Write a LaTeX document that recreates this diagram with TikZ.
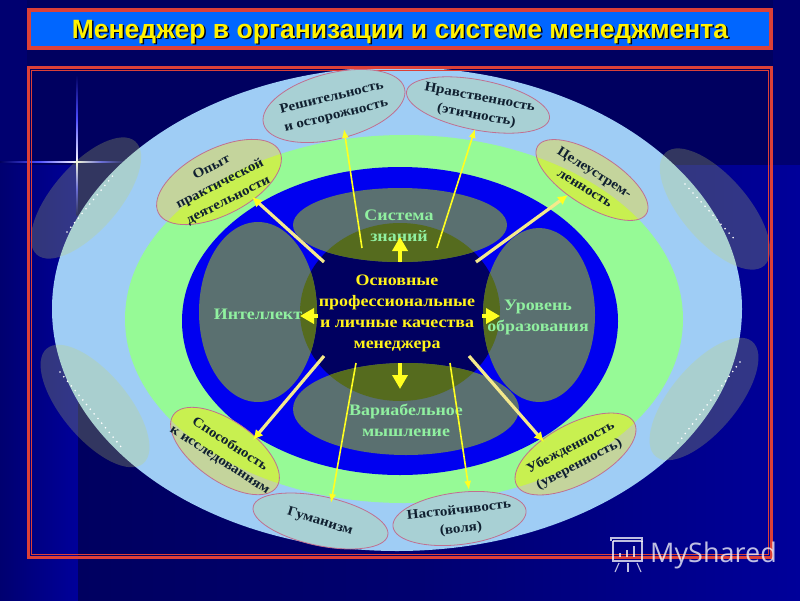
\documentclass[tikz,border=0pt]{standalone}
\usepackage{fontspec}
\setmainfont[FakeStretch=1.12]{Liberation Serif}
\newfontfamily\titlefont{Liberation Sans}
\newfontfamily\markfont{Open Sans}
\usetikzlibrary{shapes.geometric,arrows.meta}
\definecolor{navyA}{HTML}{000060}
\definecolor{navyB}{HTML}{00009A}
\definecolor{navyM}{HTML}{000070}
\definecolor{navyC}{HTML}{000070}
\definecolor{frameR}{HTML}{DC4038}
\definecolor{titleB}{HTML}{0066FF}
\definecolor{skyL}{HTML}{9FCDF5}
\definecolor{greenL}{HTML}{96FA96}
\definecolor{blueL}{HTML}{0000F0}
\definecolor{greyL}{HTML}{5A7070}
\definecolor{oliveL}{HTML}{556B1E}
\definecolor{tealE}{HTML}{A8D0D4}
\definecolor{sandE}{HTML}{C4D49C}
\definecolor{limeE}{HTML}{C8F050}
\definecolor{blobC}{HTML}{C8D860}
\definecolor{rimE}{HTML}{C07090}
\definecolor{lineY}{HTML}{F4E98C}
\definecolor{headY}{HTML}{FFFF20}
\definecolor{txtG}{HTML}{90F0A0}
\definecolor{txtD}{HTML}{102030}
\tikzset{
  x=1pt,y=-1pt,
  rimshape/.style={ellipse,draw=rimE,line width=.8pt,inner sep=0pt},
  tag/.style={inner sep=0pt,align=center,font=\fontsize{13.5}{18.5}\selectfont\bfseries,text=txtD},
  inner/.style={align=center,font=\fontsize{16}{21}\selectfont\bfseries,text=txtG},
  thickarr/.style={draw=lineY,line width=3.2pt,-{Latex[length=10pt,width=10pt,color=headY]}},
  thinarr/.style={draw=headY,line width=1.6pt,-{Latex[length=9pt,width=7pt,color=headY]}},
  blockarr/.style={draw=headY,line width=4.5pt,-{Triangle[length=14pt,width=15pt,color=headY]}},
  blob/.style={fill=blobC,fill opacity=.25},
  dots/.style={draw=white,line width=1.8pt,line cap=round,dash pattern=on 0pt off 6pt},
}
% name, x, y, rx, ry, angle, colour outside green, colour over green
\newcommand{\twotone}[8]{%
  \begin{scope}
    \clip[rotate around={#6:(#2,#3)}] (#2,#3) ellipse (#4pt and #5pt);
    \fill[#7] (0,0) rectangle (800,600);
    \fill[#8] (404,319) ellipse (279pt and 184pt);
  \end{scope}
  \node (#1) [rimshape,rotate=#6,minimum width=2*#4 pt,minimum height=2*#5 pt] at (#2,#3) {};}
\begin{document}
\begin{tikzpicture}
\useasboundingbox (0,0) rectangle (800,600);
% background
\shade[left color=navyC,right color=navyB] (0,165) rectangle (78,600);
\shade[left color=navyA,right color=navyM] (78,165) rectangle (420,600);
\shade[left color=navyM,right color=navyB] (420,165) rectangle (800,600);
\fill[navyC] (0,0) rectangle (800,165);
\fill[navyA] (27,0) rectangle (773,165);
% star
\shade[left color=navyA,right color=white,middle color=blue!70!white] (0,161.4) rectangle (77,162.6);
\shade[left color=white,right color=navyA,middle color=blue!70!white] (77,161.4) rectangle (125,162.6);
\shade[top color=navyA,bottom color=white,middle color=blue!70!white] (76.5,75) rectangle (77.5,162);
\shade[top color=white,bottom color=navyA,middle color=blue!70!white] (76.5,162) rectangle (77.5,215);
% big ellipses
\fill[skyL] (397,309) ellipse (345pt and 242pt);
\fill[greenL] (404,319) ellipse (279pt and 184pt);
\fill[blueL] (400,321) ellipse (218pt and 154pt);
% side blobs
\fill[blob,rotate around={49:(86,198)}] (86,198) ellipse (75pt and 33pt);
\fill[blob,rotate around={-50:(95,406)}] (95,406) ellipse (75pt and 33pt);
\fill[blob,rotate around={-49:(715,209)}] (715,209) ellipse (75pt and 33pt);
\fill[blob,rotate around={50:(704,399)}] (704,399) ellipse (75pt and 33pt);
\draw[dots] (67,232) -- (115,173);
\draw[dots] (60,372) -- (122,448);
\draw[dots] (685,184) -- (737,242);
\draw[dots] (678,443) -- (740,362);
% centre
\fill[navyA] (400,312) ellipse (100pt and 89pt);
\fill[greyL] (258,312) ellipse (59pt and 90pt);
\fill[greyL] (539,315) ellipse (56pt and 87pt);
\fill[greyL] (400,225) ellipse (107pt and 37pt);
\fill[greyL] (406,409) ellipse (113pt and 46pt);
\begin{scope}
  \clip (400,312) ellipse (100pt and 89pt);
  \fill[oliveL] (258,312) ellipse (59pt and 90pt);
  \fill[oliveL] (539,315) ellipse (56pt and 87pt);
  \fill[oliveL] (400,225) ellipse (107pt and 37pt);
  \fill[oliveL] (406,409) ellipse (113pt and 46pt);
\end{scope}
% frames
\draw[frameR,line width=4pt] (29,10) rectangle (771,48);
\fill[titleB] (31,12) rectangle (769,46);
\draw[frameR,line width=3pt] (28.5,67.5) rectangle (771.5,557);
\draw[frameR,line width=.7pt] (31.3,70.3) rectangle (768.7,554.2);
% title
\node[font=\titlefont\fontsize{26.5}{28}\selectfont\bfseries,text=black!80!navyA] at (401.5,33.5) {Менеджер в организации и системе менеджмента};
\node (title) [font=\titlefont\fontsize{26.5}{28}\selectfont\bfseries,text=yellow] at (400,32) {Менеджер в организации и системе менеджмента};
% tag ellipses
\twotone{res}{334}{106}{72.7}{33}{14}{tealE}{tealE}
\twotone{nrav}{478}{105}{72.7}{25}{-11}{tealE}{tealE}
\twotone{cel}{592}{180}{64}{26}{-32}{sandE}{limeE}
\twotone{opyt}{219}{182}{68}{33}{27}{sandE}{limeE}
\twotone{spo}{225}{451}{63}{30}{-35}{sandE}{limeE}
\twotone{gum}{320.5}{521}{68.8}{24.6}{-12}{tealE}{tealE}
\twotone{nas}{459.5}{518.5}{67}{26}{7}{tealE}{tealE}
\twotone{ube}{575.5}{454}{66.6}{30}{28}{sandE}{limeE}
\node (resT) [tag,rotate=14] at (334,107) {Решительность\\и осторожность};
\node (nravT) [tag,rotate=-10.7] at (478,107) {Нравственность\\(этичность)};
\node (celT) [tag,rotate=-32] at (590,180) {Целеустрем-\\ленность};
\node (opytT) [tag,rotate=27] at (220,184) {Опыт\\практической\\деятельности};
\node (spoT) [tag,rotate=-33] at (225,452) {Способность\\к исследованиям};
\node (gumT) [tag,rotate=-17] at (320,522) {Гуманизм};
\node (nasT) [tag,rotate=6.5] at (460,520) {Настойчивость\\(воля)};
\node (ubeT) [tag,rotate=27.8] at (575,456) {Убежденность\\(уверенность)};
% inner labels
\node (zna) [inner] at (399,225.5) {Система\\знаний};
\node (var) [inner] at (406,420.5) {Вариабельное\\мышление};
\node (int) [inner] at (258,314) {Интеллект};
\node (obr) [inner] at (538,317.5) {Уровень\\образования};
\node (main) [align=center,font=\fontsize{16}{21}\selectfont\bfseries,text=yellow!90!white] at (397,313) {Основные\\профессиональные\\и личные качества\\менеджера};
% connector end points
\coordinate (o1) at (324,262);
\coordinate (o2) at (362,248);
\coordinate (o3) at (437,248);
\coordinate (o4) at (476,262);
\coordinate (o5) at (324,356);
\coordinate (o6) at (356,363);
\coordinate (o7) at (450,363);
\coordinate (o8) at (469,356);
\coordinate (e1) at (252,197);
\coordinate (e2) at (344,129);
\coordinate (e3) at (475,129);
\coordinate (e4) at (568,195);
\coordinate (e5) at (253,440);
\coordinate (e6) at (331,503);
\coordinate (e7) at (469,490);
\coordinate (e8) at (544,442);
\draw[thickarr] (o1) -- (e1);
\draw[thinarr] (o2) -- (e2);
\draw[thinarr] (o3) -- (e3);
\draw[thickarr] (o4) -- (e4);
\draw[thickarr] (o5) -- (e5);
\draw[thinarr] (o6) -- (e6);
\draw[thinarr] (o7) -- (e7);
\draw[thickarr] (o8) -- (e8);
% block arrows
\coordinate (bU0) at (400,262); \coordinate (bU1) at (400,237);
\coordinate (bD0) at (400,363); \coordinate (bD1) at (400,389);
\coordinate (bL0) at (318,316); \coordinate (bL1) at (300,316);
\coordinate (bR0) at (482,316); \coordinate (bR1) at (500,316);
\draw[blockarr] (bU0) -- (bU1);
\draw[blockarr] (bD0) -- (bD1);
\draw[blockarr] (bL0) -- (bL1);
\draw[blockarr] (bR0) -- (bR1);
% watermark
\begin{scope}[draw=white,draw opacity=.75,line width=1.1pt]
  \draw (611,541) -- (611,538) -- (642,538) -- (642,541) -- (613,541);
  \draw (613,541) -- (613,561) -- (642,561) -- (642,541);
  \draw (619,563) -- (615,572);
  \draw (628,563) -- (628,572);
  \draw (637,563) -- (641,572);
  \draw[line width=2.5pt] (620,557) -- (620,553);
  \draw[line width=2.5pt] (627,557) -- (627,550);
  \draw[line width=2.5pt] (634,557) -- (634,546);
\end{scope}
\node (mark) [font=\markfont\fontsize{27}{28}\selectfont,text=white,text opacity=.75] at (713.5,555) {MyShared};
\end{tikzpicture}
\end{document}
